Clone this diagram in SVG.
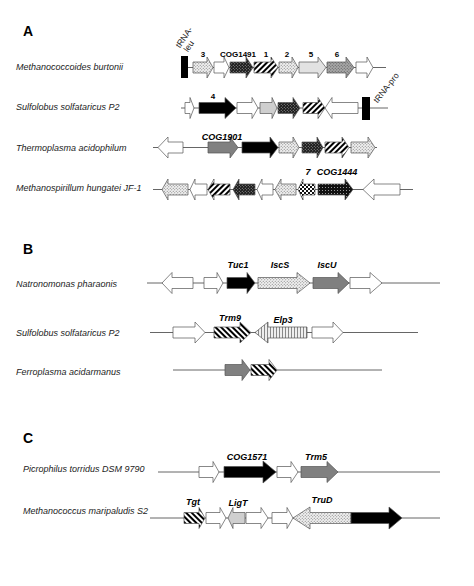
<svg xmlns="http://www.w3.org/2000/svg" width="474" height="586" viewBox="0 0 474 586">
<defs>
<pattern id="pDot" width="3" height="3" patternUnits="userSpaceOnUse"><rect width="3" height="3" fill="#f0f0f0"/><circle cx="0.75" cy="0.75" r="0.55" fill="#777"/><circle cx="2.25" cy="2.25" r="0.55" fill="#777"/></pattern>
<pattern id="pDark" width="3" height="3" patternUnits="userSpaceOnUse"><rect width="3" height="3" fill="#1a1a1a"/><circle cx="0.75" cy="0.75" r="0.5" fill="#bbb"/><circle cx="2.25" cy="2.25" r="0.5" fill="#bbb"/></pattern>
<pattern id="pGrayDot" width="3" height="3" patternUnits="userSpaceOnUse"><rect width="3" height="3" fill="#a8a8a8"/><circle cx="0.75" cy="0.75" r="0.55" fill="#555"/><circle cx="2.25" cy="2.25" r="0.55" fill="#555"/></pattern>
<pattern id="pHatchA" width="4" height="4" patternUnits="userSpaceOnUse" patternTransform="rotate(45)"><rect width="4" height="4" fill="#fff"/><rect width="2" height="4" fill="#000"/></pattern>
<pattern id="pHatchB" width="4" height="4" patternUnits="userSpaceOnUse" patternTransform="rotate(-45)"><rect width="4" height="4" fill="#fff"/><rect width="2" height="4" fill="#000"/></pattern>
<pattern id="pCheck" width="4" height="4" patternUnits="userSpaceOnUse"><rect width="4" height="4" fill="#fff"/><rect width="2" height="2" fill="#111"/><rect x="2" y="2" width="2" height="2" fill="#111"/></pattern>
<pattern id="pDarkCheck" width="3" height="3" patternUnits="userSpaceOnUse"><rect width="3" height="3" fill="#111"/><rect x="1" y="1" width="1" height="1" fill="#999"/></pattern>
<pattern id="pVStripe" width="3" height="3" patternUnits="userSpaceOnUse"><rect width="3" height="3" fill="#eee"/><rect width="1" height="3" fill="#888"/></pattern>
</defs>
<style>
.ln{stroke:#666;stroke-width:1;fill:none}
.g{stroke:#555;stroke-width:0.7}
.w{fill:#fff}
.k{fill:#000}
.gr{fill:#808080}
.lg{fill:#cfcfcf}
.vlg{fill:#e2e2e2}
.dot{fill:url(#pDot)}
.dk{fill:url(#pDark)}
.gd{fill:url(#pGrayDot)}
.ha{fill:url(#pHatchA)}
.hb{fill:url(#pHatchB)}
.ck{fill:url(#pCheck)}
.dc{fill:url(#pDarkCheck)}
.vs{fill:url(#pVStripe)}
.org{font-family:"Liberation Sans",Arial,sans-serif;font-size:9px;font-style:italic;fill:#222}
.sec{font-family:"Liberation Sans",Arial,sans-serif;font-size:14px;font-weight:bold;fill:#000}
.lb{font-family:"Liberation Sans",Arial,sans-serif;font-size:8px;font-weight:bold;fill:#000;text-anchor:middle}
.li{font-family:"Liberation Sans",Arial,sans-serif;font-size:9px;font-weight:bold;font-style:italic;fill:#000;text-anchor:middle}
.tr{font-family:"Liberation Sans",Arial,sans-serif;font-size:8.5px;fill:#222}
</style>

<g id="connectors">
<line class="ln" x1="188" y1="67.5" x2="386" y2="67.5"/>
<line class="ln" x1="181" y1="108" x2="388" y2="108"/>
<line class="ln" x1="153" y1="147.5" x2="377" y2="147.5"/>
<line class="ln" x1="153" y1="189.5" x2="413" y2="189.5"/>
<line class="ln" x1="147" y1="283" x2="440" y2="283"/>
<line class="ln" x1="150" y1="332.5" x2="418" y2="332.5"/>
<line class="ln" x1="173" y1="370" x2="382" y2="370"/>
<line class="ln" x1="158" y1="472" x2="440" y2="472"/>
<line class="ln" x1="150" y1="518" x2="440" y2="518"/>
</g>

<g id="labels">
<text class="sec" x="23" y="36">A</text>
<text class="sec" x="23" y="254">B</text>
<text class="sec" x="23" y="443">C</text>
<text class="org" x="16" y="69.5">Methanococcoides burtonii</text>
<text class="org" x="16" y="109.5">Sulfolobus solfataricus P2</text>
<text class="org" x="16" y="151">Thermoplasma acidophilum</text>
<text class="org" x="16" y="190.5">Methanospirillum hungatei JF-1</text>
<text class="org" x="16" y="286.5">Natronomonas pharaonis</text>
<text class="org" x="16" y="335.5">Sulfolobus solfataricus P2</text>
<text class="org" x="16" y="375">Ferroplasma acidarmanus</text>
<text class="org" x="23" y="471.5">Picrophilus torridus DSM 9790</text>
<text class="org" x="23" y="513.5">Methanococcus maripaludis S2</text>
</g>

<g id="row-A1">
<rect class="k" x="181" y="56" width="7" height="22"/>
<text class="tr" transform="translate(180,48.5) rotate(-56)">tRNA-</text>
<text class="tr" transform="translate(188,52.5) rotate(-56)">leu</text>
<polygon class="g dot" points="193,62 207,62 207,57 213,67.5 207,78 207,73 193,73"/>
<polygon class="g w" points="214,62 224,62 224,57 229,67.5 224,78 224,73 214,73"/>
<polygon class="g dk" points="230,62 246,62 246,57 253,67.5 246,78 246,73 230,73"/>
<polygon class="g ha" points="254,62 271,62 271,57 278,67.5 271,78 271,73 254,73"/>
<polygon class="g dot" points="279,62 292,62 292,57 298,67.5 292,78 292,73 279,73"/>
<polygon class="g vlg" points="299,62 318,62 318,57 326,67.5 318,78 318,73 299,73"/>
<polygon class="g gd" points="327,62 346,62 346,57 354,67.5 346,78 346,73 327,73"/>
<polygon class="g w" points="356,62 367,62 367,57 373,67.5 367,78 367,73 356,73"/>
<text class="lb" x="203" y="56.5">3</text>
<text class="lb" x="238" y="56.5">COG1491</text>
<text class="lb" x="266" y="56.5">1</text>
<text class="lb" x="287" y="56.5">2</text>
<text class="lb" x="311" y="56.5">5</text>
<text class="lb" x="337" y="56.5">6</text>
</g>

<g id="row-A2">
<polygon class="g w" points="185,102.5 190,102.5 190,97.5 194,108 190,118.5 190,113.5 185,113.5"/>
<polygon class="g k" points="199,102.5 225,102.5 225,97.5 236,108 225,118.5 225,113.5 199,113.5"/>
<polygon class="g w" points="237,102.5 252,102.5 252,97.5 258,108 252,118.5 252,113.5 237,113.5"/>
<polygon class="g lg" points="260,102.5 272,102.5 272,97.5 277,108 272,118.5 272,113.5 260,113.5"/>
<polygon class="g dk" points="278,102.5 293,102.5 293,97.5 300,108 293,118.5 293,113.5 278,113.5"/>
<polygon class="g ha" points="303,102.5 318,102.5 318,97.5 325,108 318,118.5 318,113.5 303,113.5"/>
<polygon class="g w" points="325,108 332,97.5 332,102.5 358,102.5 358,113.5 332,113.5 332,118.5"/>
<rect class="k" x="362" y="97" width="8" height="23"/>
<text class="tr" transform="translate(377.5,103.5) rotate(-52)">tRNA-pro</text>
<text class="lb" x="213" y="98.5">4</text>
</g>

<g id="row-A3">
<polygon class="g w" points="158,147.5 168,137 168,142 183,142 183,153 168,153 168,158"/>
<polygon class="g gr" points="208,142 230,142 230,137 238,147.5 230,158 230,153 208,153"/>
<polygon class="g k" points="242,142 270,142 270,137 278,147.5 270,158 270,153 242,153"/>
<polygon class="g dot" points="279,142 293,142 293,137 299,147.5 293,158 293,153 279,153"/>
<polygon class="g dk" points="302,142 317,142 317,137 323,147.5 317,158 317,153 302,153"/>
<polygon class="g ha" points="325,142 342,142 342,137 349,147.5 342,158 342,153 325,153"/>
<polygon class="g dot" points="351,142 368,142 368,137 375,147.5 368,158 368,153 351,153"/>
<text class="li" x="222" y="140">COG1901</text>
</g>

<g id="row-A4">
<polygon class="g dot" points="162,189.5 168,179 168,184 188,184 188,195 168,195 168,200"/>
<polygon class="g w" points="190,189.5 195,179 195,184 207,184 207,195 195,195 195,200"/>
<polygon class="g ha" points="208,189.5 214,179 214,184 230,184 230,195 214,195 214,200"/>
<polygon class="g dk" points="233,189.5 239,179 239,184 255,184 255,195 239,195 239,200"/>
<polygon class="g w" points="257,189.5 262,179 262,184 273,184 273,195 262,195 262,200"/>
<polygon class="g dot" points="275,189.5 281,179 281,184 296,184 296,195 281,195 281,200"/>
<polygon class="g ck" points="298,189.5 303,179 303,184 315,184 315,195 303,195 303,200"/>
<polygon class="g dc" points="318,184 345,184 345,179 353,189.5 345,200 345,195 318,195"/>
<polygon class="g w" points="363,189.5 374,179 374,184 400,184 400,195 374,195 374,200"/>
<text class="li" x="308" y="175">7</text>
<text class="li" x="337" y="175">COG1444</text>
</g>

<g id="row-B1">
<polygon class="g w" points="162,283 172,272.5 172,277.5 193,277.5 193,288.5 172,288.5 172,293.5"/>
<polygon class="g w" points="204,277.5 217,277.5 217,272.5 223,283 217,293.5 217,288.5 204,288.5"/>
<polygon class="g k" points="227,277.5 247,277.5 247,272.5 255,283 247,293.5 247,288.5 227,288.5"/>
<polygon class="g dot" points="258,277.5 297,277.5 297,272.5 310,283 297,293.5 297,288.5 258,288.5"/>
<polygon class="g gr" points="313,277.5 338,277.5 338,272.5 349,283 338,293.5 338,288.5 313,288.5"/>
<polygon class="g w" points="350,277.5 370,277.5 370,272.5 382,283 370,293.5 370,288.5 350,288.5"/>
<text class="li" x="238" y="268">Tuc1</text>
<text class="li" x="280" y="268">IscS</text>
<text class="li" x="327" y="268">IscU</text>
</g>

<g id="row-B2">
<polygon class="g w" points="173,327 195,327 195,322 205,332.5 195,343 195,338 173,338"/>
<polygon class="g hb" points="214,327 240,327 240,322 251,332.5 240,343 240,338 214,338"/>
<polygon class="g vs" points="255,332.5 268,322 268,327 307,327 307,338 268,338 268,343"/>
<polygon class="g w" points="312,327 333,327 333,322 343,332.5 333,343 333,338 312,338"/>
<text class="li" x="230" y="321">Trm9</text>
<text class="li" x="283" y="323">Elp3</text>
</g>

<g id="row-B3">
<polygon class="g gr" points="225,364.5 242,364.5 242,359.5 250,370 242,380.5 242,375.5 225,375.5"/>
<polygon class="g hb" points="251,364.5 269,364.5 269,359.5 277,370 269,380.5 269,375.5 251,375.5"/>
</g>

<g id="row-C1">
<polygon class="g w" points="199,466.5 213,466.5 213,461.5 219,472 213,482.5 213,477.5 199,477.5"/>
<polygon class="g k" points="224,466.5 263,466.5 263,461 276,472 263,483 263,477.5 224,477.5"/>
<polygon class="g w" points="277,466.5 291,466.5 291,461.5 298,472 291,482.5 291,477.5 277,477.5"/>
<polygon class="g gr" points="301,466.5 327,466.5 327,461.5 338,472 327,482.5 327,477.5 301,477.5"/>
<text class="li" x="247" y="460">COG1571</text>
<text class="li" x="316" y="460">Trm5</text>
</g>

<g id="row-C2">
<polygon class="g hb" points="184,512.5 199,512.5 199,507.5 205,518 199,528.5 199,523.5 184,523.5"/>
<polygon class="g w" points="206,512.5 220,512.5 220,507.5 226,518 220,528.5 220,523.5 206,523.5"/>
<polygon class="g lg" points="228,518 233,507.5 233,512.5 245,512.5 245,523.5 233,523.5 233,528.5"/>
<polygon class="g w" points="246,512.5 261,512.5 261,507.5 268,518 261,528.5 261,523.5 246,523.5"/>
<polygon class="g w" points="272,512.5 287,512.5 287,507.5 293,518 287,528.5 287,523.5 272,523.5"/>
<polygon class="g dot" points="293,518 310,507 310,512.5 351,512.5 351,523.5 310,523.5 310,529"/>
<polygon class="g k" points="351,512.5 389,512.5 389,507 402,518 389,529 389,523.5 351,523.5"/>
<text class="li" x="193" y="505">Tgt</text>
<text class="li" x="238" y="506">LigT</text>
<text class="li" x="322" y="503">TruD</text>
</g>
</svg>
